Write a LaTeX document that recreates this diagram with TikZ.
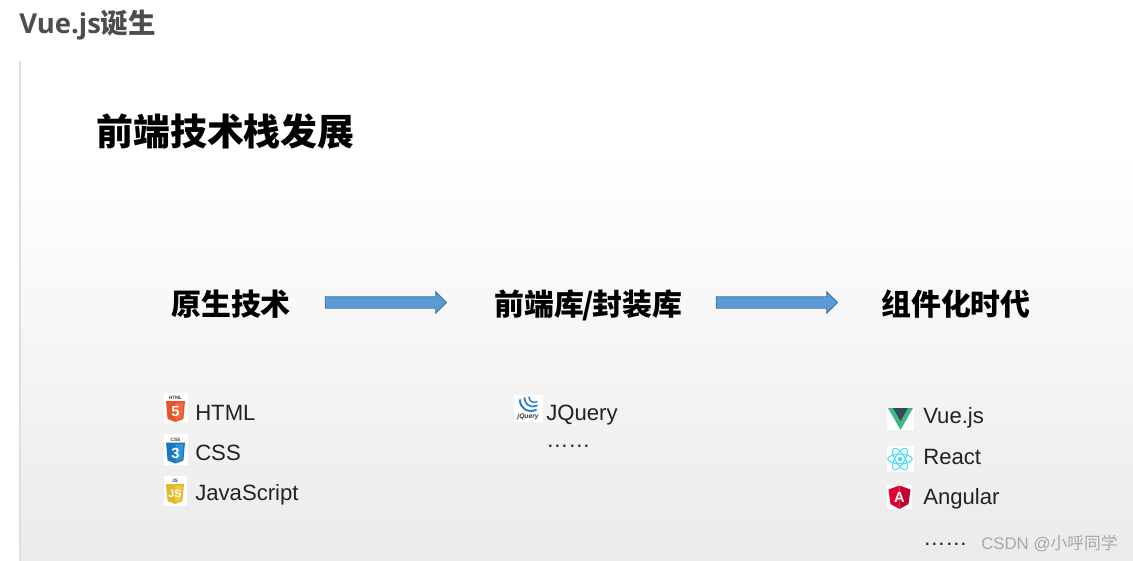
\documentclass[tikz,border=0pt]{standalone}
\usepackage{fontspec}
\setmainfont{Liberation Sans}
\newfontfamily\cjkf{Noto Sans CJK SC}
\newfontfamily\headf{Open Sans}
\usetikzlibrary{shapes.arrows}
\definecolor{headgrey}{HTML}{4D4D4D}
\definecolor{rulegrey}{HTML}{DEDEDE}
\definecolor{inktext}{HTML}{222222}
\definecolor{arrowfill}{HTML}{5B9BD5}
\definecolor{arrowedge}{HTML}{41719C}
\definecolor{wm}{HTML}{A8A8A8}
\definecolor{htmlc}{HTML}{E9522A}
\definecolor{htmld}{HTML}{F26B3A}
\definecolor{cssc}{HTML}{1C76BC}
\definecolor{cssd}{HTML}{2F93D8}
\definecolor{jsc}{HTML}{E2B72C}
\definecolor{jsd}{HTML}{EFCB3E}
\definecolor{vueg}{HTML}{41B883}
\definecolor{vued}{HTML}{35495E}
\definecolor{reactc}{HTML}{45DCFF}
\definecolor{ngc}{HTML}{DD0031}
\definecolor{ngd}{HTML}{C3002F}
\definecolor{jqc}{HTML}{2F7FC1}
\pgfdeclareverticalshading{slidebg}{100bp}{
  color(0bp)=(black!8); color(25bp)=(black!8); color(50bp)=(black!3);
  color(66bp)=(white); color(100bp)=(white)}
\tikzset{
  px/.style={x=0.75pt,y=-0.75pt},
  maintitle/.style={inner sep=0pt,anchor=base west,text=black,font=\fontsize{27.7pt}{30pt}\selectfont\cjkf\bfseries},
  stage/.style={inner sep=0pt,anchor=base west,text=black,font=\fontsize{22.4pt}{26pt}\selectfont\cjkf\bfseries},
  item/.style={inner sep=0pt,anchor=base west,text=inktext,font=\fontsize{16.6pt}{20pt}\selectfont},
  blockarrow/.style={single arrow,draw=arrowedge,fill=arrowfill,line width=0.6pt,inner sep=0pt,
    minimum height=91pt,single arrow head extend=3.8pt,single arrow tip angle=90,anchor=center},
  iconbg/.style={fill=white,draw=none},
  tinylab/.style={inner sep=0pt,text=black!75,font=\fontsize{3.6pt}{4pt}\selectfont\bfseries},
  glyph/.style={inner sep=0pt,text=white,font=\fontsize{11pt}{12pt}\selectfont\bfseries},
}
\newcommand{\shieldicon}[9]{% name, x0, x1, top, bottom, dark, light, word, glyph
  \fill[#6] (#2,#4) -- (#3,#4) -- ({#3-1.6},{#5-3}) -- ({(#2+#3)/2},#5) -- ({#2+1.6},{#5-3}) -- cycle;
  \fill[#7] ({(#2+#3)/2},{#4+1.5}) -- ({#3-1.6},{#4+1.5}) -- ({#3-3},{#5-4}) -- ({(#2+#3)/2},{#5-1.5}) -- cycle;
  \node[glyph] (#1) at ({(#2+#3)/2},{(#4+#5)/2}) {#9};
  \node[tinylab] (#1lab) at ({(#2+#3)/2},{#4-3}) {#8};
}
\begin{document}
\begin{tikzpicture}[px]
\useasboundingbox (0,0) rectangle (1133,561);
\fill[white] (0,0) rectangle (1133,561);
\path[shading=slidebg] (20,61) rectangle (1133,561);
\fill[rulegrey] (19,61) rectangle (20.5,561);

\node[inner sep=0pt,anchor=base west,text=headgrey,font=\fontsize{20.6pt}{24pt}\selectfont\bfseries] (page) at (19,33)
  {{\headf Vue.js}{\cjkf 诞生}};
\node[maintitle] (title) at (96,145) {前端技术栈发展};

\node[stage] (s1) at (171,315) {原生技术};
\node[stage] (s2) at (494,315) {前端库\kern-1pt/\kern-1pt封装库};
\node[stage] (s3) at (881,315) {组件化时代};

\node[blockarrow] (a1) at (383,302.5) {\rule{0pt}{8pt}};
\node[blockarrow] (a2) at (774,302.5) {\rule{0pt}{8pt}};

% column 1
\fill[iconbg] (164,393) rectangle (188,423);
\shieldicon{ihtml}{166}{185}{401}{422}{htmlc}{htmld}{HTML}{5}
\node[item] (html) at (195,420) {HTML};
\fill[iconbg] (164,434) rectangle (188,465);
\shieldicon{icss}{166}{185}{442.5}{463.5}{cssc}{cssd}{CSS}{3}
\node[item] (css) at (195,460) {CSS};
\fill[iconbg] (164,476) rectangle (187,506);
\shieldicon{ijs}{166}{184}{484}{504}{jsc}{jsd}{JS}{\fontsize{8pt}{9pt}\selectfont JS}
\node[item] (js) at (195,500) {JavaScript};

% column 2
\fill[iconbg] (514,395) rectangle (543,422);
\draw[jqc,line width=1.5pt,line cap=round] (520,400) .. controls (520,408) and (527,413) .. (536,410);
\draw[jqc,line width=1.3pt,line cap=round] (524.5,398) .. controls (524.5,404) and (530,408.5) .. (537,405.5);
\draw[jqc,line width=1.1pt,line cap=round] (529,397) .. controls (529,401) and (533,404) .. (537,401.5);
\node[inner sep=0pt,text=black!80,font=\fontsize{5pt}{6pt}\selectfont\bfseries\itshape] (ijq) at (528,417) {jQuery};
\node[item] (jq) at (546,420) {JQuery};
\node[item] (jqdots) at (546,447.5) {……};

% column 3
\fill[iconbg] (887,408) rectangle (914,430);
\fill[vueg] (888,408) -- (913,408) -- (900.5,430) -- cycle;
\fill[vued] (893,408) -- (908,408) -- (900.5,421) -- cycle;
\node[item] (vue) at (923,423.5) {Vue.js};
\fill[iconbg] (887,446) rectangle (914,472);
\node[circle,fill=reactc,inner sep=0pt,minimum size=3.4pt] (ireact) at (900,459) {};
\foreach \r in {0,60,120}
  \draw[reactc,line width=0.75pt,rotate around={\r:(ireact.center)}] (ireact.center) ellipse (9.2pt and 3.6pt);
\node[item] (react) at (923,464) {React};
\fill[iconbg] (887,485) rectangle (912,509);
\fill[ngc] (899.5,485.5) -- (899.5,509) -- (890.5,504) -- (888.5,489.5) -- cycle;
\fill[ngd] (899.5,485.5) -- (899.5,509) -- (908.5,504) -- (910.5,489.5) -- cycle;
\node[glyph] (ing) at (899.5,497) {A};
\node[item] (ng) at (923,504) {Angular};
\node[item] (ngdots) at (923,545.5) {……};

\node[inner sep=0pt,anchor=base west,text=wm,font=\fontsize{12.6pt}{14pt}\selectfont] (mark) at (981,549) {CSDN @{\cjkf 小呼同学}};
\end{tikzpicture}
\end{document}
